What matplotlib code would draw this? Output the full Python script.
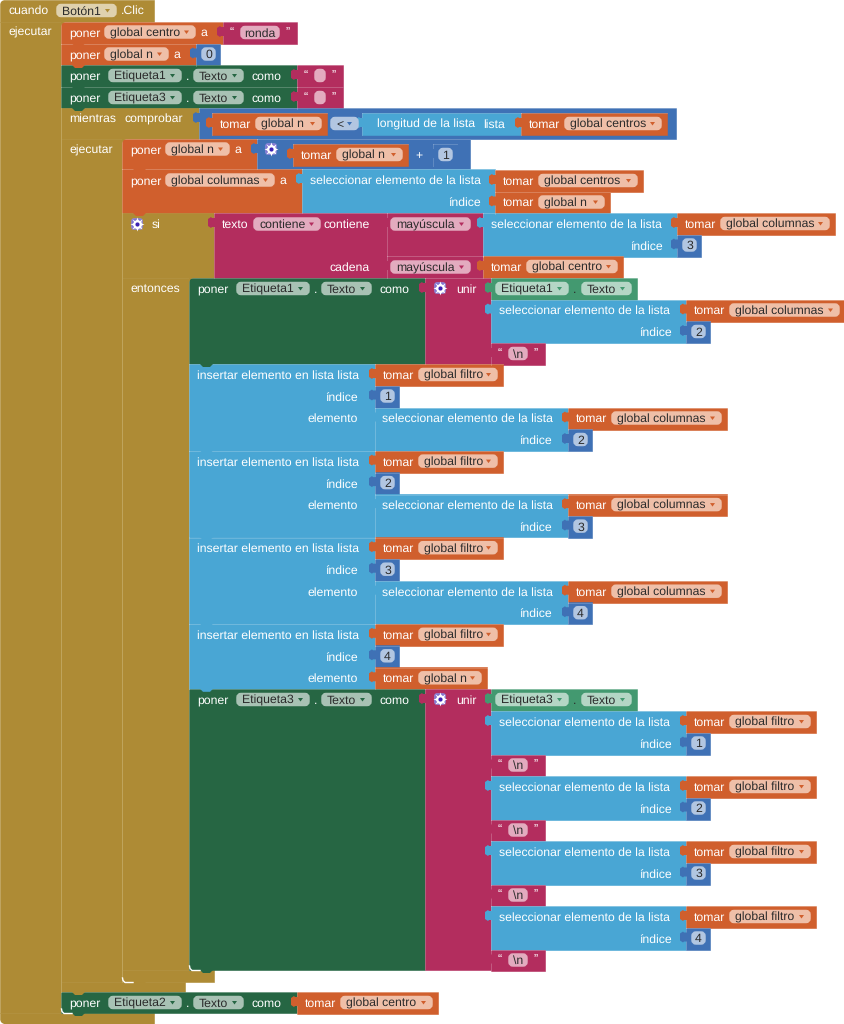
import matplotlib
matplotlib.use('Agg')
import matplotlib.pyplot as plt
from matplotlib.patches import Rectangle, Polygon, FancyBboxPatch

plt.rcParams['font.family'] = ['Liberation Sans', 'DejaVu Sans']
plt.rcParams['text.hinting'] = 'none'

BROWN = '#ae8b35'
ORANGE = '#d05f2d'
GREEN = '#266643'
LGREEN = '#439970'
PINK = '#b32d5e'
LBLUE = '#49a6d4'
BLUE = '#3f71b5'
INK = '#2b2b2b'
FS = 8.85

CHIP = {BROWN: '#dfd1ae', ORANGE: '#efbfa8', GREEN: '#a8c2b4', LGREEN: '#b4d6c5',
        PINK: '#e3abbf', BLUE: '#b2c6e1', LBLUE: '#b6dbee'}

# textos del programa
INICIO = ['poner', 'global centro', 'a', 'ronda', 'global n', '0']
ETIQUETAS = ['Etiqueta1', 'Etiqueta2', 'Etiqueta3']
INDICES_COLUMNA = ['2', '3', '4']
INDICES_INSERTAR = ['1', '2', '3', '4']
INDICES_FILTRO = ['1', '2', '3', '4']

fig = plt.figure(figsize=(8.45, 10.24), dpi=100)
ax = fig.add_axes([0, 0, 1, 1])
ax.set_xlim(0, 845)
ax.set_ylim(1024, 0)
ax.axis('off')


def label(x, y, s, color='white', ha='left', size=FS):
    ax.text(x, y, s, color=color, ha=ha, va='center_baseline', fontsize=size, zorder=10)


def block(x0, y0, x1, y1, color, tab=False, notch=False):
    ax.add_patch(Rectangle((x0, y0), x1 - x0, y1 - y0, fc=color, ec=color, lw=0.4, zorder=2))
    if color != BROWN:
        ax.plot([x0, x1], [y0 + 0.4, y0 + 0.4], color='white', alpha=0.18, lw=0.7, zorder=3)
        ax.plot([x0 + 0.4, x0 + 0.4], [y0, y1], color='white', alpha=0.18, lw=0.7, zorder=3)
    if tab:
        ax.add_patch(Polygon([(x0 + 1, y0 + 5), (x0 - 2, y0 + 5), (x0 - 3, y0 + 4), (x0 - 6, y0 + 6), (x0 - 6, y0 + 13),
                              (x0 - 3, y0 + 15), (x0 - 2, y0 + 14), (x0 + 1, y0 + 14)], fc=color, ec='none', zorder=4))
    if notch:
        ax.add_patch(Polygon([(x0 + 10, y1 - 1), (x0 + 14, y1 + 3), (x0 + 21, y1 + 3), (x0 + 25, y1 - 1)],
                             fc=color, ec='none', zorder=5))


def chip(x0, x1, y, s, color, arrow=True):
    ax.add_patch(FancyBboxPatch((x0 + 2, y - 5), x1 - x0 - 4, 10, boxstyle='round,pad=0,rounding_size=3',
                                fc=CHIP[color], ec=CHIP[color], lw=2.5, zorder=6))
    if arrow:
        ax.text(x0 + 6, y, s, color=INK, ha='left', va='center_baseline', fontsize=FS, zorder=10)
        ax.add_patch(Polygon([(x1 - 12, y - 1.5), (x1 - 7, y - 1.5), (x1 - 9.5, y + 2)],
                             fc=color, ec='none', zorder=7))
    else:
        ax.text((x0 + x1) / 2, y, s, color=INK, ha='center', va='center_baseline', fontsize=FS, zorder=10)


def gear(x, y):
    ax.add_patch(FancyBboxPatch((x - 5, y - 5), 10, 10, boxstyle='round,pad=0,rounding_size=2',
                                fc='#3c22b4', ec='#8e86d8', lw=1.2, zorder=6))
    ax.plot([x], [y], marker=(8, 1, 0), ms=10, color='white', mew=0, zorder=7)
    ax.plot([x], [y], marker='o', ms=6.5, color='white', mew=0, zorder=7)
    ax.plot([x], [y], marker='o', ms=3, color='#3c22b4', mew=0, zorder=8)


def corner(x, y, sx, sy, color='white'):
    # esquina redondeada: tapa el vértice con el color de atrás
    ax.add_patch(Polygon([(x, y), (x + 4 * sx, y), (x + 2 * sx, y + 1 * sy), (x + 1 * sx, y + 2 * sy), (x, y + 4 * sy)],
                         fc=color, ec='none', zorder=5))


def arc(x, y):
    # brillo en la esquina interior de abajo
    ax.plot([x + 0.5, x + 1, x + 3, x + 11], [y - 4, y - 1.5, y + 0.5, y + 0.5], color='white', lw=1, zorder=9)


def tomar(x0, x1, y0, s):
    block(x0, y0, x1, y0 + 22, ORANGE, tab=True)
    label(x0 + 8, y0 + 10.5, 'tomar')
    chip(x0 + 43, x1 - 5, y0 + 10.5, s, ORANGE)


def numero(x0, y0, s):
    block(x0, y0, x0 + 24, y0 + 22, BLUE, tab=True)
    chip(x0 + 5, x0 + 20, y0 + 10.5, s, BLUE, arrow=False)


def cadena(x0, x1, y0, s):
    block(x0, y0, x1, y0 + 21.5, PINK, tab=True)
    label(x0 + 7, y0 + 9, '“', size=9)
    label(x1 - 7, y0 + 9, '”', ha='right', size=9)
    chip(x0 + 17, x1 - 17, y0 + 10.5, s, PINK, arrow=False)


def seleccionar(x0, y0, x1, s_lista, w_lista, indice):
    # seleccionar elemento de la lista + su índice
    block(x0, y0, x1, y0 + 43.5, LBLUE, tab=True)
    label(x0 + 8, y0 + 10.5, 'seleccionar elemento de la lista')
    label(x1 - 14, y0 + 32.5, 'índice', ha='right')
    tomar(x1, x1 + w_lista, y0, s_lista)
    numero(x1, y0 + 21.5, indice)


def poner_texto(x0, x1, y0, y1, etiqueta):
    block(x0, y0, x1, y1, GREEN, notch=True)
    label(x0 + 8, y0 + 10.5, 'poner')
    chip(x0 + 47, x0 + 121, y0 + 10.5, etiqueta, GREEN)
    label(x0 + 125, y0 + 10.5, '.')
    chip(x0 + 132, x0 + 183, y0 + 10.5, 'Texto', GREEN)
    label(x0 + 190, y0 + 10.5, 'como')


def unir(x0, y0, y1, etiqueta):
    block(x0, y0, x0 + 66, y1, PINK, tab=True)
    gear(x0 + 15, y0 + 10)
    label(x0 + 31, y0 + 10.5, 'unir')
    block(x0 + 66, y0, x0 + 212, y0 + 21.5, LGREEN, tab=True)
    chip(x0 + 70, x0 + 144, y0 + 10.5, etiqueta, LGREEN)
    label(x0 + 148, y0 + 10.5, '.', color=INK)
    chip(x0 + 156, x0 + 207, y0 + 10.5, 'Texto', LGREEN)


# cuando Botón1.Clic
block(0, 0, 154, 22, BROWN)
block(0, 22, 61, 1013, BROWN)
block(0, 1013, 154, 1024, BROWN)
corner(0, 0, 1, 1)
corner(0, 1024, 1, -1)
label(8, 10, 'cuando')
chip(56, 117, 10.5, 'Botón1', BROWN)
label(121, 10, '.Clic')
label(8, 31, 'ejecutar')

# inicio
block(61, 22, 223, 43.5, ORANGE, notch=True)
corner(61, 22, 1, 1, BROWN)
label(69, 32, INICIO[0])
chip(104, 196, 32, INICIO[1], ORANGE)
label(200, 32, INICIO[2])
cadena(223, 297, 22, INICIO[3])

block(61, 43.5, 196, 65, ORANGE, notch=True)
label(69, 54, INICIO[0])
chip(104, 169, 54, INICIO[4], ORANGE)
label(173, 54, INICIO[2])
numero(196, 43.5, INICIO[5])

poner_texto(61, 297, 65, 87, ETIQUETAS[0])
cadena(297, 343, 65, '')
poner_texto(61, 297, 87, 108, ETIQUETAS[2])
cadena(297, 343, 87, '')

# mientras comprobar
block(61, 108, 199, 139, BROWN)
block(61, 139, 122, 982, BROWN)
block(61, 982, 185, 992, BROWN, notch=True)
label(69, 118, 'mientras')
label(124, 118, 'comprobar')
label(69, 149, 'ejecutar')
block(199, 108, 676, 139, BLUE, tab=True)
tomar(212, 327, 113, 'global n')
chip(330, 359, 123.5, '<', BLUE)
block(362, 113, 521, 135, LBLUE, tab=True)
label(377, 123.5, 'longitud de la lista')
label(483, 123.5, 'lista')
tomar(521, 667, 113, 'global centros')

block(122, 139, 257, 169, ORANGE, notch=True)
corner(122, 139, 1, 1, BROWN)
label(130, 149, 'poner')
chip(165, 230, 149, 'global n', ORANGE)
label(234, 149, 'a')
block(257, 139, 470, 169, BLUE, tab=True)
gear(271, 149)
tomar(293, 408, 144, 'global n')
label(419, 154.5, '+', ha='center')
numero(433, 144, '1')

block(122, 169, 302, 213, ORANGE, notch=True)
label(130, 180, 'poner')
chip(165, 275, 180, 'global columnas', ORANGE)
label(279, 180, 'a')
block(302, 169, 495, 213, LBLUE, tab=True)
label(310, 180, 'seleccionar elemento de la lista')
label(481, 202, 'índice', ha='right')
tomar(495, 643, 170, 'global centros')
tomar(495, 610, 191.5, 'global n')

# si
block(122, 213, 214, 278, BROWN)
block(122, 278, 189, 970, BROWN)
block(122, 970, 214, 982, BROWN, notch=True)
gear(137, 224)
label(152, 224, 'si')
label(130, 288, 'entonces')
block(214, 213, 387, 278, PINK, tab=True)
label(222, 224, 'texto')
chip(253, 321, 224, 'contiene', PINK)
label(370, 224, 'contiene', ha='right')
label(370, 267, 'cadena', ha='right')
block(387, 213, 483, 256, PINK, tab=True)
block(387, 256, 483, 278, PINK, tab=True)
chip(390, 471, 224, 'mayúscula', PINK)
chip(390, 471, 267, 'mayúscula', PINK)
seleccionar(483, 213, 677, 'global columnas', 158, '3')
tomar(483, 623, 256, 'global centro')

# Etiqueta1
poner_texto(189, 425, 278, 364, ETIQUETAS[0])
corner(189, 278, 1, 1, BROWN)
unir(425, 278, 364, ETIQUETAS[0])
seleccionar(491, 299.5, 686, 'global columnas', 159, '2')
cadena(491, 545, 343, '\\n')

# insertar en la lista filtro
for i in range(4):
    y0 = 364 + i * 86.6
    y1 = y0 + (86.6 if i < 3 else 65)
    block(189, y0, 375, y1, LBLUE, notch=True)
    label(197, y0 + 10.5, 'insertar elemento en lista lista')
    label(358, y0 + 32.5, 'índice', ha='right')
    label(358, y0 + 54, 'elemento', ha='right')
    tomar(375, 503, y0, 'global filtro')
    numero(375, y0 + 21.5, INDICES_INSERTAR[i])
    if i < 3:
        block(375, y0 + 43.5, 568, y0 + 86.6, LBLUE, tab=True)
        label(382, y0 + 54, 'seleccionar elemento de la lista')
        label(552, y0 + 75.5, 'índice', ha='right')
        tomar(568, 727, y0 + 43.5, 'global columnas')
        numero(568, y0 + 65, INDICES_COLUMNA[i])
    else:
        tomar(375, 487, y0 + 43.5, 'global n')

# Etiqueta3
poner_texto(189, 425, 689, 970, ETIQUETAS[2])
unir(425, 689, 970, ETIQUETAS[2])
for i in range(4):
    y0 = 711 + i * 65
    seleccionar(491, y0, 686, 'global filtro', 130, INDICES_FILTRO[i])
    cadena(491, 545, y0 + 43.5, '\\n')

# Etiqueta2
poner_texto(61, 297, 992, 1013, ETIQUETAS[1])
tomar(297, 438, 992, 'global centro')

# brillos de las columnas
for x, y_a, y_b in [(61.5, 108, 992), (122.5, 213, 982)]:
    ax.plot([x, x], [y_a, y_b], color='#c2a963', lw=0.6, zorder=3)
arc(189, 970)
arc(122, 982)
arc(61, 1013)

fig.savefig('out.png', dpi=100)
